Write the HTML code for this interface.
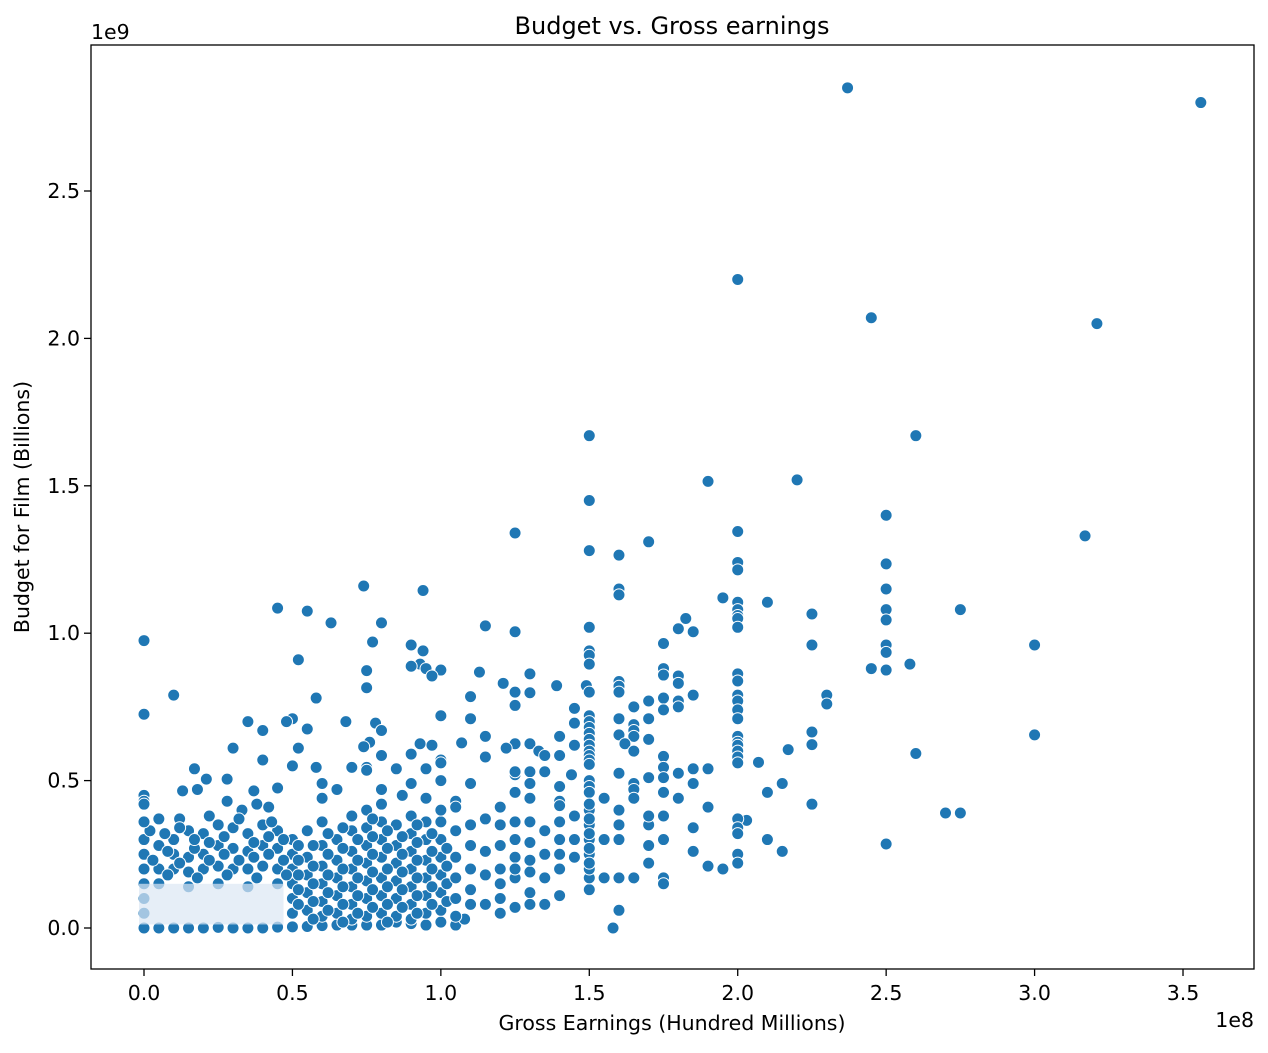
<!DOCTYPE html>
<html><head><meta charset="utf-8"><style>
body{margin:0;background:#fff;}
svg text{font-family:"DejaVu Sans","Liberation Sans",sans-serif;fill:#000;}
</style></head><body>
<svg id="chart" width="1268" height="1048" xmlns="http://www.w3.org/2000/svg">
<rect x="0" y="0" width="1268" height="1048" fill="#fff"/>
<text x="672" y="34" font-size="24" text-anchor="middle">Budget vs. Gross earnings</text>
<text x="672" y="1030" font-size="20.5" text-anchor="middle">Gross Earnings (Hundred Millions)</text>
<text x="29" y="507" font-size="20.5" text-anchor="middle" transform="rotate(-90 29 507)">Budget for Film (Billions)</text>
<text x="91" y="39" font-size="20.5">1e9</text>
<text x="1254" y="1027" font-size="20.5" text-anchor="end">1e8</text>
<g id="marks"></g>
<g id="axes"></g>
<rect x="91" y="45" width="1163" height="924" fill="none" stroke="#000" stroke-width="1.3"/>
</svg>
<script>
const xTicks=[0,0.5,1.0,1.5,2.0,2.5,3.0,3.5];
const xTickLabels=["0.0","0.5","1.0","1.5","2.0","2.5","3.0","3.5"];
const yTicks=[0,0.5,1.0,1.5,2.0,2.5];
const yTickLabels=["0.0","0.5","1.0","1.5","2.0","2.5"];
// gross (1e8) and budget (1e9)
const sparsePoints=[2.37,2.85,3.56,2.80,2.0,2.20,2.45,2.07,3.21,2.05,1.5,1.67,2.6,1.67,1.9,1.515,2.2,1.52,1.5,1.45,2.5,1.40,1.25,1.34,2.0,1.345,3.17,1.33,1.7,1.31,1.5,1.28,1.6,1.265,2.0,1.24,2.5,1.235,2.0,1.215,1.6,1.15,2.5,1.15,1.6,1.13,0.74,1.16,0.94,1.145,1.95,1.12,2.1,1.105,2.0,1.105,2.0,1.08,2.0,1.06,2.0,1.05,2.5,1.08,2.75,1.08,0.45,1.085,0.55,1.075,2.25,1.065,1.825,1.05,2.5,1.045,0.63,1.035,0.8,1.035,1.15,1.025,1.5,1.02,2.0,1.02,1.8,1.015,1.85,1.005,1.25,1.005,0,0.975,0.77,0.97,1.75,0.965,2.5,0.96,2.25,0.96,3.0,0.96,0.9,0.96,0.94,0.94,1.5,0.94,1.5,0.925,2.5,0.935,0.52,0.91,1.5,0.895,0.93,0.895,0.9,0.888,0.95,0.88,2.45,0.88,2.5,0.875,2.58,0.895,1.0,0.875,0.75,0.873,1.13,0.868,1.3,0.862,2.0,0.862,1.75,0.88,1.8,0.855,0.97,0.855,1.6,0.836,2.0,0.838,1.75,0.858,1.6,0.82,1.39,0.822,1.49,0.822,1.21,0.83,0.75,0.815,1.8,0.83,1.6,0.8,1.5,0.8,2.0,0.79,2.3,0.79,1.85,0.79,1.1,0.785,0.58,0.78,1.25,0.80,1.3,0.798,0.1,0.79,1.7,0.77,1.75,0.78,1.8,0.77,2.0,0.77,1.65,0.75,1.75,0.74,1.8,0.75,1.25,0.755,2.3,0.758,1.45,0.745,2.0,0.74,0,0.725,1.0,0.72,1.1,0.71,1.5,0.72,1.6,0.71,1.7,0.71,2.0,0.71,0.35,0.70,0.5,0.71,0.48,0.70,0.68,0.70,0.55,0.675,0.78,0.695,1.45,0.695,1.5,0.70,1.5,0.68,1.65,0.69,1.65,0.67,0.4,0.67,0.8,0.67,1.5,0.66,1.65,0.65,2.25,0.665,3.0,0.655,1.15,0.65,1.4,0.65,1.7,0.64,2.0,0.65,2.0,0.63,1.6,0.655,1.62,0.625,1.5,0.64,1.5,0.62,1.25,0.625,1.3,0.625,1.07,0.628,0.76,0.63,0.93,0.625,0.97,0.62,1.45,0.62,2.0,0.62,2.25,0.622,0.3,0.61,0.52,0.61,0.74,0.615,1.22,0.61,1.5,0.6,1.33,0.6,1.65,0.6,2.17,0.605,2.0,0.6,2.6,0.592,0.9,0.59,1.35,0.585,1.4,0.585,1.5,0.585,1.75,0.582,2.0,0.58,0.4,0.57,1.0,0.57,1.15,0.58,0.8,0.585,2.0,0.56,2.07,0.562,1.5,0.57,1.0,0.56,1.5,0.555,0.5,0.55,0.58,0.545,0.7,0.545,0.75,0.545,0.75,0.535,0.85,0.54,0.95,0.54,1.75,0.545,1.8,0.525,1.85,0.54,1.9,0.54,1.6,0.525,0.17,0.54,0.21,0.505,0.28,0.505,1.25,0.52,1.25,0.53,1.3,0.53,1.35,0.53,1.44,0.52,1.5,0.5,1.65,0.49,1.7,0.51,1.75,0.51,1.85,0.49,2.15,0.49,1.0,0.5,1.1,0.49,0.9,0.49,0.6,0.49,0.65,0.47,0.8,0.47,1.3,0.49,1.4,0.48,1.5,0.48,1.5,0.46,1.25,0.46,1.75,0.46,2.1,0.46,1.65,0.47,0.13,0.465,0.18,0.47,0.37,0.465,0.43,0.36,0.45,0.475,0.38,0.42,0.0,0.45,0.0,0.43,0.0,0.42,0.0,0.36,0.6,0.44,0.87,0.45,0.95,0.44,1.05,0.43,1.3,0.44,1.4,0.43,1.55,0.44,1.65,0.44,1.8,0.44,1.05,0.41,1.0,0.4,1.2,0.41,1.4,0.415,1.9,0.41,2.25,0.42,2.7,0.39,2.75,0.39,2.03,0.365,2.0,0.37,2.0,0.34,2.0,0.32,2.1,0.30,2.15,0.26,2.0,0.25,2.0,0.22,1.95,0.2,1.9,0.21,1.85,0.26,1.85,0.34,1.75,0.38,1.75,0.3,1.75,0.17,1.75,0.15,1.7,0.22,1.7,0.28,1.7,0.35,1.7,0.38,1.6,0.17,1.6,0.06,1.58,0.0,1.65,0.17,1.6,0.3,1.6,0.35,1.6,0.4,1.55,0.3,1.55,0.17,1.5,0.13,1.5,0.17,1.5,0.2,1.5,0.25,1.5,0.3,1.5,0.35,1.5,0.4,1.5,0.42,1.45,0.24,1.45,0.3,1.4,0.11,1.4,0.2,1.4,0.3,1.35,0.08,1.35,0.17,1.3,0.12,1.3,0.19,1.3,0.08,1.25,0.07,1.25,0.17,1.2,0.05,1.2,0.1,1.15,0.08,1.1,0.08,1.08,0.03,2.5,0.285,2.3,0.76,
1.5,0.37,1.5,0.32,1.5,0.27,1.5,0.22,1.25,0.36,1.25,0.30,1.25,0.24,1.25,0.20,1.3,0.36,1.3,0.29,1.3,0.23,1.35,0.25,1.35,0.33,1.4,0.36,1.4,0.25,1.45,0.38,1.2,0.35,1.2,0.28,1.2,0.2,1.2,0.15,1.15,0.37,1.15,0.26,1.15,0.18,1.1,0.35,1.1,0.28,1.1,0.2,1.1,0.13,1.05,0.33,1.05,0.24,1.05,0.17,1.05,0.1,1.05,0.04];
const densePoints=[0,0,0.05,0,0.1,0,0.15,0,0.2,0,0.25,0.002,0.3,0,0.35,0,0.4,0,0.45,0.003,0.5,0.004,0.55,0.005,0.6,0.008,0.65,0.01,0.7,0.01,0.75,0.01,0.8,0.01,0.85,0.02,0.9,0.015,0.95,0.01,1.0,0.02,1.05,0.01,
0.5,0.05,0.5,0.1,0.5,0.15,0.5,0.2,0.5,0.25,0.5,0.3,0.55,0.06,0.55,0.12,0.55,0.18,0.55,0.24,0.55,0.33,0.6,0.04,0.6,0.09,0.6,0.15,0.6,0.21,0.6,0.28,0.6,0.36,0.65,0.05,0.65,0.11,0.65,0.17,0.65,0.23,0.65,0.3,0.7,0.03,0.7,0.08,0.7,0.14,0.7,0.2,0.7,0.26,0.7,0.33,0.7,0.38,0.75,0.04,0.75,0.1,0.75,0.16,0.75,0.22,0.75,0.28,0.75,0.34,0.75,0.4,0.8,0.05,0.8,0.11,0.8,0.17,0.8,0.24,0.8,0.3,0.8,0.36,0.8,0.42,0.85,0.04,0.85,0.1,0.85,0.16,0.85,0.22,0.85,0.28,0.85,0.35,0.9,0.03,0.9,0.08,0.9,0.14,0.9,0.2,0.9,0.26,0.9,0.32,0.9,0.38,0.95,0.05,0.95,0.11,0.95,0.17,0.95,0.23,0.95,0.3,0.95,0.36,1.0,0.06,1.0,0.12,1.0,0.18,1.0,0.24,1.0,0.3,1.0,0.36,
0,0.05,0,0.1,0,0.15,0,0.2,0,0.25,0,0.3,0.05,0.28,0.1,0.3,0.1,0.25,0.15,0.33,0.15,0.24,0.2,0.32,0.2,0.25,0.25,0.35,0.25,0.28,0.3,0.34,0.3,0.27,0.35,0.32,0.35,0.26,0.4,0.35,0.4,0.28,0.45,0.33,0.45,0.27,0.05,0.2,0.1,0.2,0.15,0.19,0.2,0.2,0.25,0.21,0.3,0.2,0.35,0.2,0.4,0.21,0.45,0.2,0.05,0.15,0.15,0.14,0.25,0.15,0.35,0.14,0.45,0.15,0.42,0.41,0.22,0.38,0.33,0.4,0.12,0.37,0.28,0.43,0.05,0.37,
0.52,0.08,0.52,0.13,0.52,0.18,0.52,0.23,0.52,0.28,0.57,0.03,0.57,0.09,0.57,0.15,0.57,0.21,0.57,0.28,0.62,0.06,0.62,0.12,0.62,0.18,0.62,0.25,0.62,0.32,0.67,0.02,0.67,0.08,0.67,0.14,0.67,0.2,0.67,0.27,0.67,0.34,0.72,0.05,0.72,0.11,0.72,0.17,0.72,0.23,0.72,0.3,0.77,0.07,0.77,0.13,0.77,0.19,0.77,0.25,0.77,0.31,0.77,0.37,0.82,0.02,0.82,0.08,0.82,0.14,0.82,0.2,0.82,0.27,0.82,0.33,0.87,0.07,0.87,0.13,0.87,0.19,0.87,0.25,0.87,0.31,0.92,0.05,0.92,0.11,0.92,0.17,0.92,0.23,0.92,0.29,0.92,0.35,0.97,0.08,0.97,0.14,0.97,0.2,0.97,0.26,0.97,0.32,1.02,0.09,1.02,0.15,1.02,0.21,1.02,0.27,
0.03,0.23,0.08,0.26,0.12,0.22,0.17,0.27,0.22,0.23,0.27,0.25,0.32,0.23,0.37,0.24,0.42,0.25,0.47,0.23,0.07,0.32,0.17,0.3,0.27,0.31,0.37,0.29,0.47,0.3,0.02,0.33,0.12,0.34,0.22,0.29,0.32,0.37,0.42,0.31,0.08,0.18,0.18,0.17,0.28,0.18,0.38,0.17,0.48,0.18];
const hazeX=[0,0.47]; const hazeY=[0.012,0.15];
const X0=144,XS=296.86,Y0=928,YS=294.8;
const sx=v=>X0+v*XS, sy=v=>Y0-v*YS;
const NS="http://www.w3.org/2000/svg";
const marks=document.getElementById('marks'), axes=document.getElementById('axes');
function drawPts(arr,name){
 for(let i=0;i<arr.length;i+=2){
  const c=document.createElementNS(NS,'circle');
  c.setAttribute('cx',sx(arr[i]));c.setAttribute('cy',sy(arr[i+1]));c.setAttribute('r',6);
  c.setAttribute('fill','#1f77b4');c.setAttribute('stroke','#fff');c.setAttribute('stroke-width',1);
  
  
  marks.appendChild(c);
 }
}
drawPts(densePoints,'dense-point');
const hz=document.createElementNS(NS,'rect');
hz.setAttribute('x',sx(hazeX[0])-5);hz.setAttribute('width',sx(hazeX[1])-sx(hazeX[0])+5);
hz.setAttribute('y',sy(hazeY[1]));hz.setAttribute('height',sy(hazeY[0])-sy(hazeY[1]));
hz.setAttribute('fill','#dbe7f3');hz.setAttribute('opacity','0.7');


marks.appendChild(hz);
drawPts(sparsePoints,'point');
xTicks.forEach((t,i)=>{
 const l=document.createElementNS(NS,'line');
 l.setAttribute('x1',sx(t));l.setAttribute('x2',sx(t));l.setAttribute('y1',969);l.setAttribute('y2',976);l.setAttribute('stroke','#000');l.setAttribute('stroke-width',1.3);
 
 
 axes.appendChild(l);
 const tx=document.createElementNS(NS,'text');
 tx.setAttribute('x',sx(t));tx.setAttribute('y',1000);tx.setAttribute('font-size',20.5);tx.setAttribute('text-anchor','middle');
 tx.textContent=xTickLabels[i];
 
 
 axes.appendChild(tx);
});
yTicks.forEach((t,i)=>{
 const l=document.createElementNS(NS,'line');
 l.setAttribute('x1',84);l.setAttribute('x2',91);l.setAttribute('y1',sy(t));l.setAttribute('y2',sy(t));l.setAttribute('stroke','#000');l.setAttribute('stroke-width',1.3);
 
 
 axes.appendChild(l);
 const tx=document.createElementNS(NS,'text');
 tx.setAttribute('x',80);tx.setAttribute('y',sy(t)+7);tx.setAttribute('font-size',20.5);tx.setAttribute('text-anchor','end');
 tx.textContent=yTickLabels[i];
 
 
 axes.appendChild(tx);
});
</script>
</body></html>
